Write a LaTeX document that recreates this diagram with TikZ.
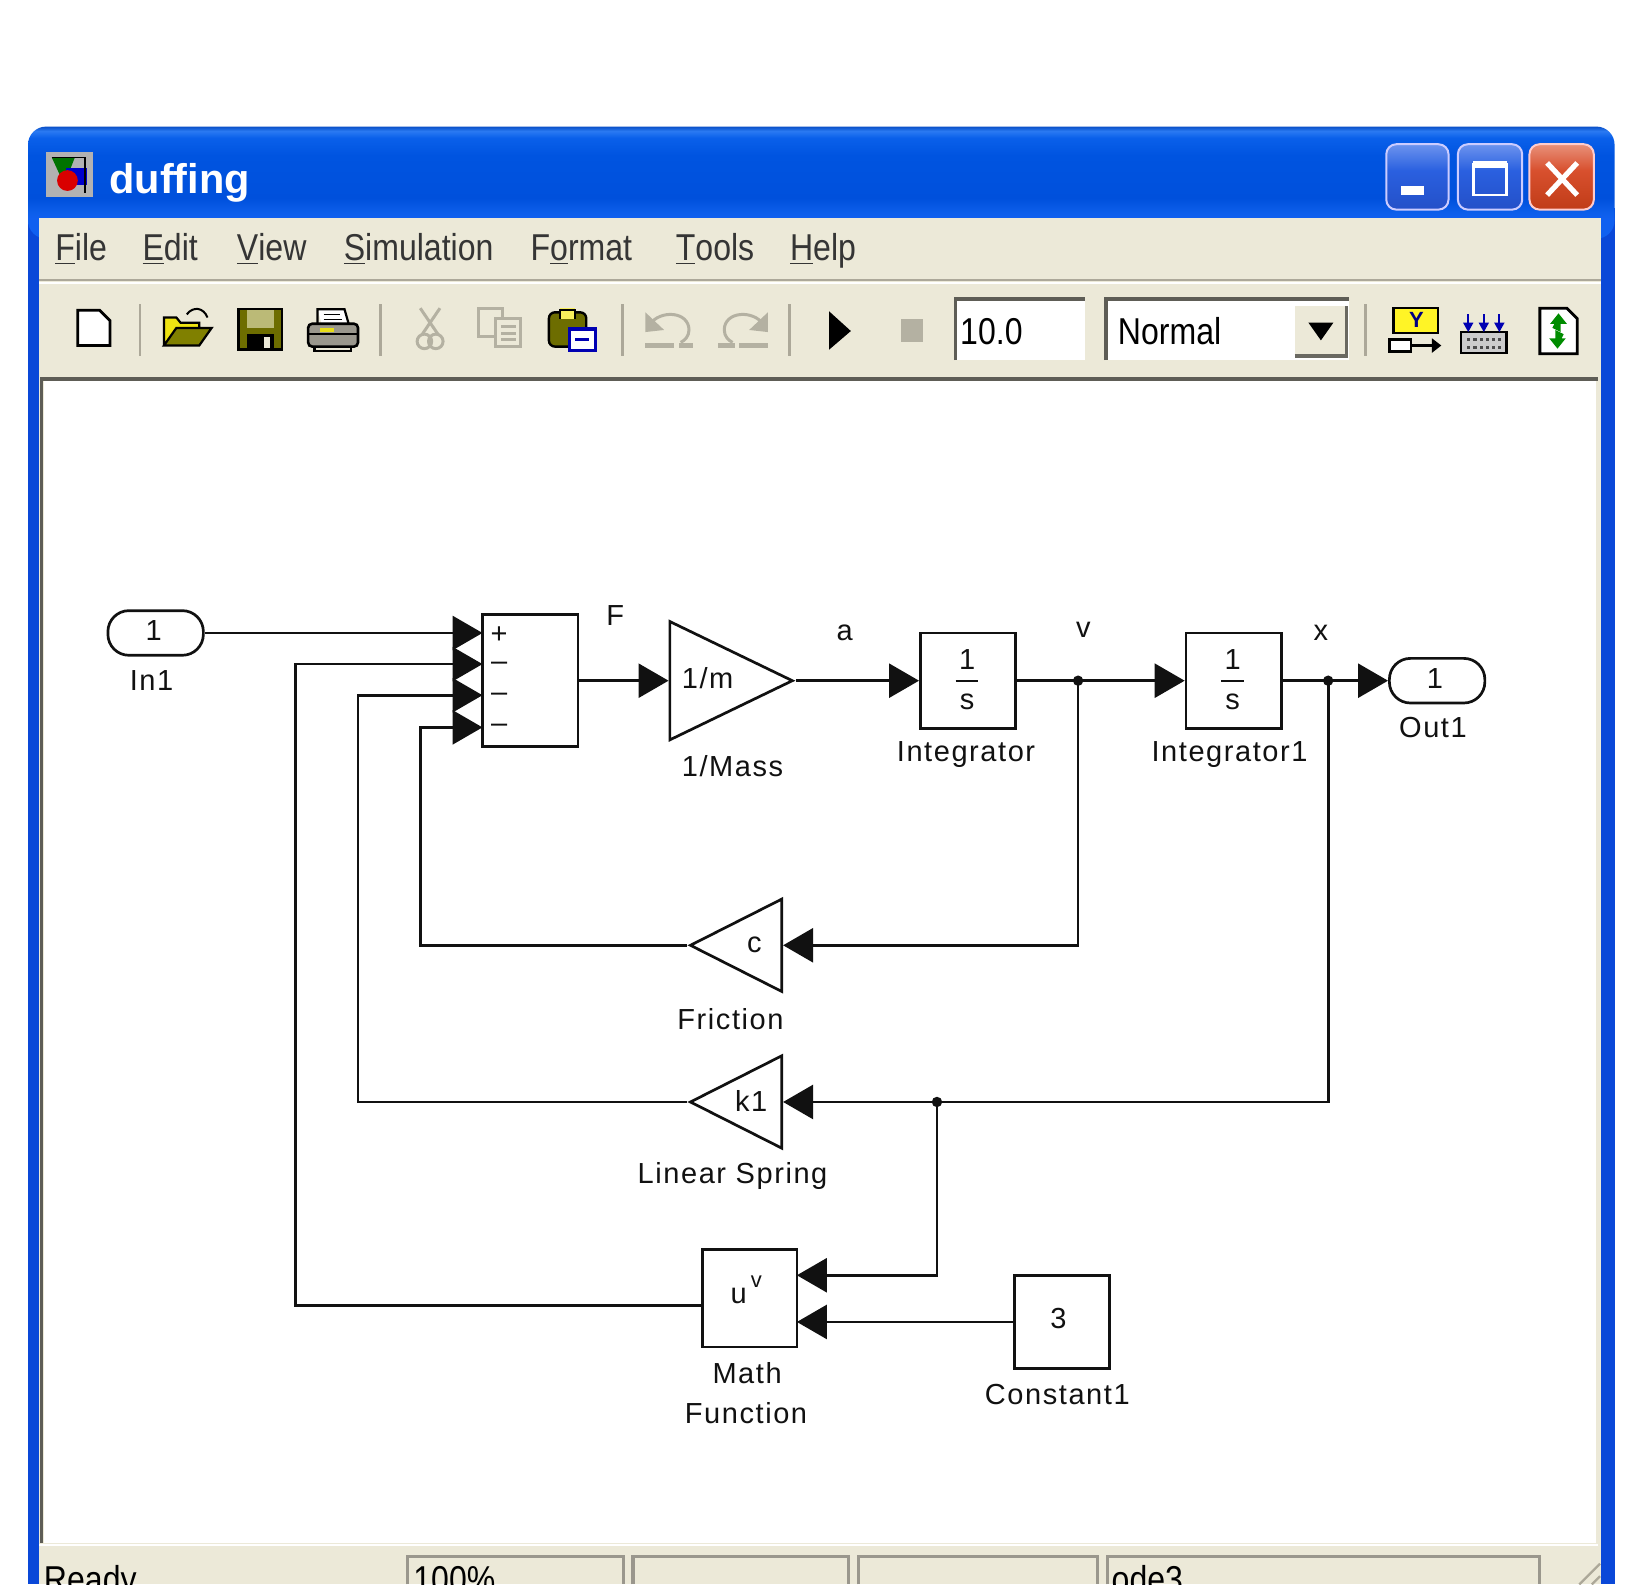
\documentclass[tikz,border=0pt]{standalone}
\usepackage{fontspec}
\usetikzlibrary{arrows.meta,shapes.geometric}
\setmainfont{Liberation Sans}
\newfontfamily\diafont[LetterSpace=5.4]{Liberation Sans}
\newfontfamily\menufont[FakeStretch=0.857]{Liberation Sans}
\def\uu{0.5188pt}
\definecolor{beige}{HTML}{ECE9D8}
\definecolor{sep}{HTML}{ACA899}
\definecolor{xpblue}{HTML}{0A48D8}
\definecolor{ink}{HTML}{111111}
\definecolor{discol}{HTML}{B4B1A2}
\definecolor{oli}{HTML}{808000}
\pgfdeclareverticalshading{titlegrad}{100bp}{
  rgb(0bp)=(0.063,0.376,0.941);
  rgb(34bp)=(0.063,0.376,0.941);
  rgb(37bp)=(0.047,0.369,0.918);
  rgb(43bp)=(0,0.314,0.863);
  rgb(62bp)=(0,0.329,0.878);
  rgb(70bp)=(0.039,0.376,0.918);
  rgb(73bp)=(0.165,0.478,0.949);
  rgb(75bp)=(0.039,0.314,0.784);
  rgb(100bp)=(0.039,0.314,0.784)}
\pgfdeclareverticalshading{btnblue}{100bp}{
  rgb(0bp)=(0.141,0.314,0.784);
  rgb(25bp)=(0.141,0.314,0.784);
  rgb(55bp)=(0.165,0.376,0.878);
  rgb(75bp)=(0.424,0.58,0.933);
  rgb(100bp)=(0.424,0.58,0.933)}
\pgfdeclareverticalshading{btnred}{100bp}{
  rgb(0bp)=(0.753,0.235,0.094);
  rgb(25bp)=(0.753,0.235,0.094);
  rgb(55bp)=(0.847,0.314,0.18);
  rgb(75bp)=(0.91,0.565,0.478);
  rgb(100bp)=(0.91,0.565,0.478)}
\tikzset{
  conn/.style={draw=ink,line width=1.35pt,-{Triangle[length=15pt,width=17pt,color=ink]}},
  wire/.style={draw=ink,line width=1.35pt},
  blockbox/.style={draw=ink,line width=1.35pt,fill=white,rectangle,inner sep=0pt,minimum width=92*\uu,minimum height=92*\uu},
  portbox/.style={draw=ink,line width=1.35pt,fill=white,rectangle,rounded corners=10.5pt,inner sep=0pt,minimum width=92*\uu,minimum height=43*\uu},
  gainright/.style={draw=ink,line width=1.35pt,isosceles triangle,isosceles triangle stretches,inner sep=0pt,minimum height=118*\uu,minimum width=114*\uu,anchor=apex},
  gainleft/.style={draw=ink,line width=1.35pt,isosceles triangle,isosceles triangle stretches,shape border rotate=180,inner sep=0pt,minimum height=88*\uu,minimum width=89*\uu,anchor=apex},
  dot/.style={circle,fill=ink,inner sep=0pt,minimum size=5.2pt},
  lab/.style={font=\diafont\fontsize{14.5pt}{17pt}\selectfont,text=ink,inner sep=0pt},
  menuitem/.style={font=\menufont\fontsize{18.7pt}{22pt}\selectfont,text=ink!85,inner sep=0pt,anchor=base west},
  sepline/.style={draw=sep,line width=1.4pt},
  disline/.style={draw=discol,line width=1.5pt},
}
\begin{document}
\begin{tikzpicture}[x=0.5188pt,y=-0.5188pt]
\useasboundingbox (0,0) rectangle (1568,1527);
\clip (0,0) rectangle (1568,1527);
\fill[white] (0,0) rectangle (1568,1527);
% window frame
\fill[xpblue] (27,200) rectangle (1556,1527);
\shade[shading=titlegrad,rounded corners=9pt] (27,230) -- (27,122) -- (1556,122) -- (1556,230) -- cycle;
\fill[beige] (38,210) rectangle (1543,1527);
% menu/toolbar divider
\draw[sep,line width=1.3pt] (38,270) -- (1543,270);
\draw[white,line width=1pt] (38,273) -- (1543,273);
% canvas
\fill[white] (42,367) rectangle (1538,1487);
\draw[black!60!beige,line width=1.8pt] (40,1487) -- (40,365) -- (1540,365);
\draw[white,line width=1.2pt] (38,1489) -- (1540,1489);
% title bar icon
\fill[black!30] (44,146) rectangle (90,190);
\fill[green!45!black] (50,152) -- (72,152) -- (62,178) -- cycle;
\fill[blue!80!black] (64,162) rectangle (84,178);
\fill[red!85!black] (65,174) circle (10);
\draw[black,line width=.7pt] (50,152) -- (82,152) -- (82,186);
\node[font=\bfseries\fontsize{20.75pt}{24pt}\selectfont,text=white,anchor=base west,inner sep=0pt] (title) at (105,186) {duffing};
% window buttons
\shade[shading=btnblue,draw=white!80!blue,line width=1pt,rounded corners=5pt] (1336,139) rectangle (1396,202);
\fill[white] (1350,179) rectangle (1372,188);
\shade[shading=btnblue,draw=white!80!blue,line width=1pt,rounded corners=5pt] (1405,139) rectangle (1467,202);
\draw[white,line width=1.2pt] (1420,158) rectangle (1452,188);
\fill[white] (1420,155) rectangle (1452,162);
\shade[shading=btnred,draw=white!80!red,line width=1pt,rounded corners=5pt] (1474,139) rectangle (1536,202);
\draw[white,line width=2.6pt] (1491,157) -- (1520,188) (1520,157) -- (1491,188);
% menu
\node[menuitem] (mfile) at (53,251) {\underline{F}ile};
\node[menuitem] (medit) at (137,251) {\underline{E}dit};
\node[menuitem] (mview) at (228,251) {\underline{V}iew};
\node[menuitem] (msim) at (331,251) {\underline{S}imulation};
\node[menuitem] (mfmt) at (511,251) {F\underline{o}rmat};
\node[menuitem] (mtools) at (651,251) {\underline{T}ools};
\node[menuitem] (mhelp) at (761,251) {\underline{H}elp};
% toolbar separators
\foreach \x in {135,367,600,761,1316} \draw[sepline] (\x,293) -- (\x,343);
% new
\draw[black,fill=white,line width=1.4pt] (75,299) -- (96,299) -- (106,309) -- (106,333) -- (75,333) -- cycle;
% open
\fill[yellow!85!oli] (158,306) -- (170,306) -- (174,311) -- (192,311) -- (192,320) -- (158,333) -- cycle;
\fill[oli] (158,333) -- (170,316) -- (204,316) -- (192,333) -- cycle;
\draw[black,line width=1.1pt] (158,333) -- (158,306) -- (170,306) -- (174,311) -- (192,311) -- (192,316) (158,333) -- (170,316) -- (204,316) -- (192,333) -- cycle;
\draw[black,line width=1pt] (180,303) .. controls (186,295) and (196,296) .. (200,306);
% save
\fill[oli!85!black] (230,298) rectangle (272,337);
\draw[black,line width=1.2pt] (230,298) rectangle (272,337);
\fill[oli!45!beige] (238,299) rectangle (264,316);
\fill[black] (238,322) rectangle (264,337);
\fill[beige] (254,325) rectangle (260,335);
% print
\fill[white] (306,298) -- (332,298) -- (336,312) -- (310,312) -- cycle;
\draw[black,line width=1.1pt] (306,312) -- (306,298) -- (332,298) -- (336,312);
\draw[black,line width=.7pt] (312,303) -- (328,303) (312,308) -- (330,308);
\fill[black!35!beige] (297,312) rectangle (345,334);
\draw[black,line width=1.3pt,rounded corners=2pt] (297,312) rectangle (345,334);
\draw[black,line width=1.3pt] (297,322) -- (345,322);
\fill[yellow!80!oli] (308,316) rectangle (322,320);
\draw[black,line width=1.1pt] (303,334) -- (303,338) -- (338,338) -- (338,334);
% cut
\draw[disline] (405,297) -- (422,322) (424,297) -- (407,322);
\draw[disline] (409,329) circle (7) (420,329) circle (7);
% copy
\draw[disline,fill=beige] (461,297) rectangle (484,324);
\draw[disline,fill=beige] (478,307) rectangle (502,334);
\draw[disline] (483,315) -- (497,315) (483,321) -- (497,321) (483,327) -- (497,327);
% paste
\fill[oli!85!black,rounded corners=3pt] (529,301) rectangle (565,334);
\draw[black,line width=1.2pt,rounded corners=3pt] (529,301) rectangle (565,334);
\fill[yellow!60!beige] (540,297) rectangle (554,307);
\draw[black,line width=1pt] (540,307) -- (540,299) -- (554,299) -- (554,307);
\fill[white] (549,317) rectangle (574,338);
\draw[blue!70!black,line width=1.6pt] (549,317) rectangle (574,338);
\fill[blue!70!black] (554,326) rectangle (568,329);
% undo / redo
\draw[disline] (626,313) .. controls (636,298) and (664,300) .. (664,318) .. controls (664,324) and (660,328) .. (656,330);
\fill[discol] (622,301) -- (622,320) -- (640,318) -- cycle;
\fill[discol] (622,331) rectangle (650,335);
\fill[discol] (654,331) rectangle (668,335);
\draw[disline] (736,313) .. controls (726,298) and (698,300) .. (698,318) .. controls (698,324) and (702,328) .. (706,330);
\fill[discol] (740,301) -- (740,320) -- (722,318) -- cycle;
\fill[discol] (712,331) rectangle (740,335);
\fill[discol] (692,331) rectangle (708,335);
% play/stop
\fill[black] (799,300) -- (820,319) -- (799,337) -- cycle;
\fill[discol] (868,307) rectangle (890,330);
% edit box
\fill[white] (921,287) rectangle (1046,347);
\draw[black!60!beige,line width=1.8pt] (921,347) -- (921,288) -- (1046,288);
\node[menuitem,text=black] (tstop) at (925,332) {10.0};
% combo
\fill[white] (1065,287) rectangle (1300,347);
\draw[black!60!beige,line width=1.8pt] (1066,347) -- (1066,288) -- (1300,288);
\fill[beige] (1248,295) rectangle (1298,343);
\draw[black!55!beige,line width=1.6pt] (1248,343) -- (1298,343) -- (1298,295);
\fill[black] (1261,311) -- (1285,311) -- (1273,328) -- cycle;
\node[menuitem,text=black] (mode) at (1077,332) {Normal};
% library
\fill[yellow!85!white] (1343,297) rectangle (1386,321);
\draw[black,line width=1.3pt] (1343,297) rectangle (1386,321);
\node[font=\bfseries\fontsize{11pt}{12pt}\selectfont,text=blue!50!black,inner sep=0pt] (ylib) at (1365,308) {Y};
\draw[black,fill=white,line width=1.3pt] (1339,327) rectangle (1360,339);
\draw[black,line width=1.3pt] (1360,333) -- (1380,333);
\fill[black] (1380,326) -- (1389,333) -- (1380,340) -- cycle;
% explorer
\fill[black!20] (1408,320) rectangle (1452,340);
\draw[black,line width=1.2pt] (1408,320) rectangle (1452,340);
\foreach \x in {1414,1420,1426,1432,1438,1444}{
  \foreach \y in {326,333}{\fill[black!70] (\x,\y) rectangle (\x+3,\y+3);}
  }
\foreach \x in {1415,1430,1445}{
  \draw[blue!70!black,line width=1.1pt] (\x,303) -- (\x,315);
  \fill[blue!70!black] (\x-5,311) -- (\x+5,311) -- (\x,320) -- cycle;
}
% refresh doc
\draw[black,fill=white,line width=1.4pt] (1484,297) -- (1510,297) -- (1520,307) -- (1520,341) -- (1484,341) -- cycle;
\fill[green!55!black] (1502,302) -- (1510,312) -- (1504,312) -- (1504,320) -- (1496,316) -- (1498,312) -- (1494,312) -- cycle;
\fill[green!55!black] (1501,336) -- (1493,326) -- (1499,326) -- (1499,318) -- (1507,322) -- (1505,326) -- (1509,326) -- cycle;
% status bar
\foreach \a/\b in {393/601,610/818,827/1058,1067/1484}{
  \draw[black!35!beige,line width=1.6pt] (\a,1527) -- (\a,1500) -- (\b,1500) -- (\b,1527);
}
\node[menuitem,text=black] (sready) at (42,1535) {Ready};
\node[menuitem,text=black] (spct) at (398,1535) {100\%};
\node[menuitem,text=black] (sode) at (1071,1535) {ode3};
\draw[sep,line width=1.2pt] (1522,1527) -- (1542,1507) (1534,1527) -- (1542,1519);
% === diagram blocks ===
\node[portbox] (in1) at (150,610) {};
\node[lab] (in1n) at (148,608) {1};
\node[lab] (in1l) at (146,656) {In1};
\node[blockbox,minimum height=127*\uu] (sum) at (511,656) {};
\node[lab] (sp) at (481,612) {+};
\node[lab] (sm1) at (481,642) {–};
\node[lab] (sm2) at (481,672) {–};
\node[lab] (sm3) at (481,702) {–};
\node[gainright] (gain) at (767,656) {};
\node[lab] (gaint) at (682,654) {1/m};
\node[lab] (gainl) at (706,738) {1/Mass};
\node[blockbox] (int) at (933,656) {};
\node[lab] (int1t) at (932,636) {1};
\draw[ink,line width=1pt] (921,656) -- (943,656);
\node[lab] (intst) at (932,676) {s};
\node[lab] (intl) at (931,727) {Integrator};
\node[blockbox] (intb) at (1189,656) {};
\node[lab] (intb1) at (1188,636) {1};
\draw[ink,line width=1pt] (1177,656) -- (1199,656);
\node[lab] (intbs) at (1188,676) {s};
\node[lab] (intbl) at (1185,727) {Integrator1};
\node[portbox] (out1) at (1385,656) {};
\node[lab] (out1n) at (1383,654) {1};
\node[lab] (out1l) at (1381,701) {Out1};
\node[gainleft] (fric) at (662,911) {};
\node[lab] (frict) at (727,911) {c};
\node[lab] (fricl) at (704,982) {Friction};
\node[gainleft] (spr) at (662,1062) {};
\node[lab] (sprt) at (724,1061) {k1};
\node[lab] (sprl) at (706,1133) {Linear Spring};
\node[blockbox,minimum width=91*\uu,minimum height=94*\uu] (math) at (722.5,1251) {};
\node[lab] (mathu) at (712,1249) {u};
\node[lab,font=\diafont\fontsize{11pt}{12pt}\selectfont] (mathv) at (729,1235) {v};
\node[lab] (mathl1) at (720,1323) {Math};
\node[lab] (mathl2) at (719,1362) {Function};
\node[blockbox,minimum height=90*\uu] (const) at (1023.5,1274) {};
\node[lab] (constt) at (1020,1271) {3};
\node[lab] (constl) at (1019,1344) {Constant1};
\node[lab] (sigF) at (593,593) {F};
\node[lab] (siga) at (814,610) {a};
\node[lab] (sigv) at (1044,607) {v};
\node[lab] (sigx) at (1273,610) {x};
% junctions and ports
\node[dot] (jv) at (1039,656) {};
\node[dot] (jx) at (1280,656) {};
\node[dot] (jk) at (903,1062) {};
\coordinate (s1) at (465,610);
\coordinate (s2) at (465,640);
\coordinate (s3) at (465,670);
\coordinate (s4) at (465,701);
\coordinate (mi1) at (768,1229);
\coordinate (mi2) at (768,1274);
\coordinate (mo) at (677,1258);
\coordinate (b2) at (285,1258);
\coordinate (b3) at (345,1062);
\coordinate (b4) at (405,911);
% connectors
\draw[conn] (in1.east) -- (s1);
\draw[conn] (sum.east) -- (gain.lower side);
\draw[conn] (gain.apex) -- (int.west);
\draw[conn] (int.east) -- (intb.west);
\draw[conn] (intb.east) -- (out1.west);
\draw[conn] (jv.center) |- (fric.lower side);
\draw[conn] (jx.center) |- (spr.lower side);
\draw[conn] (jk.center) |- (mi1);
\draw[conn] (const.west |- mi2) -- (mi2);
\draw[conn] (fric.apex) -- (b4) |- (s4);
\draw[conn] (spr.apex) -- (b3) |- (s3);
\draw[conn] (mo) -- (b2) |- (s2);
\end{tikzpicture}
\end{document}
